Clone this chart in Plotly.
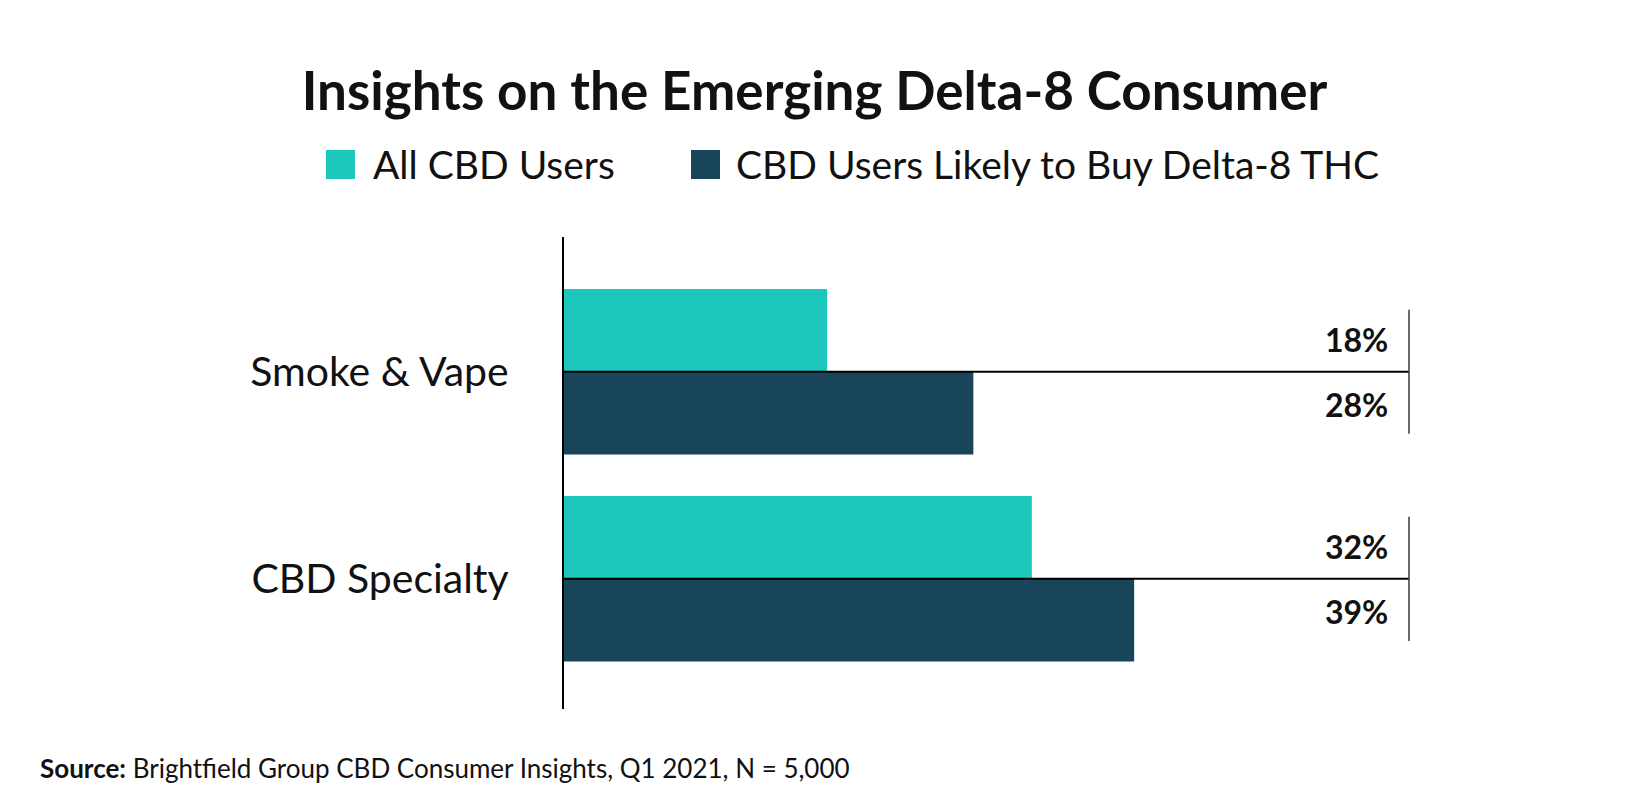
import plotly.graph_objects as go

# ---- data ----
categories = ["Smoke & Vape", "CBD Specialty"]
series_names = ["All CBD Users", "CBD Users Likely to Buy Delta-8 THC"]
all_cbd_users = [18, 32]
likely_delta8 = [28, 39]
title_text = "Insights on the Emerging Delta-8 Consumer"
source_text = "<b>Source:</b> Brightfield Group CBD Consumer Insights, Q1 2021, N = 5,000"

# ---- style ----
PAGE_W, PAGE_H = 1625, 812
OFF = 8                    # default body margin of the html page
W, H = PAGE_W - OFF, PAGE_H - OFF
colors = ["#1CC7BC", "#18455A"]
FONT = "Lato"
L, R = 564, 1409          # plot area left/right in page px
T, B = 237, 709           # plot area top/bottom in page px


def px_x(px):
    return (px - L) / (R - L)


def px_y(py):
    return (B - py) / (B - T)


fig = go.Figure()
for name, vals, col in zip(series_names, [all_cbd_users, likely_delta8], colors):
    fig.add_trace(go.Bar(
        y=categories, x=vals, name=name, orientation="h",
        marker=dict(color=col, line=dict(width=0)),
        showlegend=False, hoverinfo="x+y",
    ))

shapes = []
annotations = []
for i, cat in enumerate(categories):
    # horizontal divider between the two bars
    shapes.append(dict(type="line", xref="paper", yref="y", x0=0, x1=1,
                       y0=i, y1=i, line=dict(color="#000000", width=2), layer="above"))
    # vertical bracket at the right
    shapes.append(dict(type="line", xref="paper", yref="y", x0=1, x1=1,
                       y0=i - 0.3, y1=i + 0.3, line=dict(color="#444444", width=1.6)))
    for vals, dy in ((all_cbd_users, -0.155), (likely_delta8, 0.157)):
        annotations.append(dict(
            xref="paper", yref="y", x=1, y=i + dy, xanchor="left", yanchor="middle",
            xshift=-86, showarrow=False, text=f"<b>{vals[i]}%</b>",
            font=dict(family=FONT, size=32, color="#111111"),
        ))

# manual legend
legend_items = [(326, 371), (691, 734)]
for (sq_x, tx_x), name, col in zip(legend_items, series_names, colors):
    shapes.append(dict(type="rect", xref="paper", yref="paper",
                       x0=px_x(sq_x), x1=px_x(sq_x + 29),
                       y0=px_y(179), y1=px_y(150),
                       fillcolor=col, line=dict(width=0)))
    annotations.append(dict(
        xref="paper", yref="paper", x=px_x(tx_x), y=px_y(164),
        xanchor="left", yanchor="middle", showarrow=False, text=name,
        font=dict(family=FONT, size=39, color="#111111"),
    ))

# source
annotations.append(dict(
    xref="paper", yref="paper", x=px_x(38), y=px_y(768),
    xanchor="left", yanchor="middle", showarrow=False, text=source_text,
    font=dict(family=FONT, size=26, color="#111111"),
))

fig.update_layout(
    width=W, height=H,
    paper_bgcolor="white", plot_bgcolor="white",
    margin=dict(l=L - OFF, r=PAGE_W - R, t=T - OFF, b=PAGE_H - B, pad=0),
    barmode="group", bargap=0.2, bargroupgap=0,
    title=dict(text=f"<b>{title_text}</b>", x=(PAGE_W / 2 + 2 - OFF) / W, xanchor="center",
               xref="container", y=1 - (91 - OFF) / H, yanchor="middle",
               font=dict(family=FONT, size=53, color="#111111")),
    xaxis=dict(range=[0, 57.8], visible=False, showgrid=False, zeroline=False, fixedrange=True),
    yaxis=dict(
        type="category", categoryorder="array", categoryarray=categories,
        range=[1.629, -0.651], showline=True, linecolor="#000000", linewidth=2.2,
        showgrid=False, zeroline=False, ticks="", ticklabelstandoff=45,
        tickfont=dict(family=FONT, size=41, color="#111111"), fixedrange=True,
    ),
    shapes=shapes, annotations=annotations,
    showlegend=False,
)

fig.write_html("out.html")
